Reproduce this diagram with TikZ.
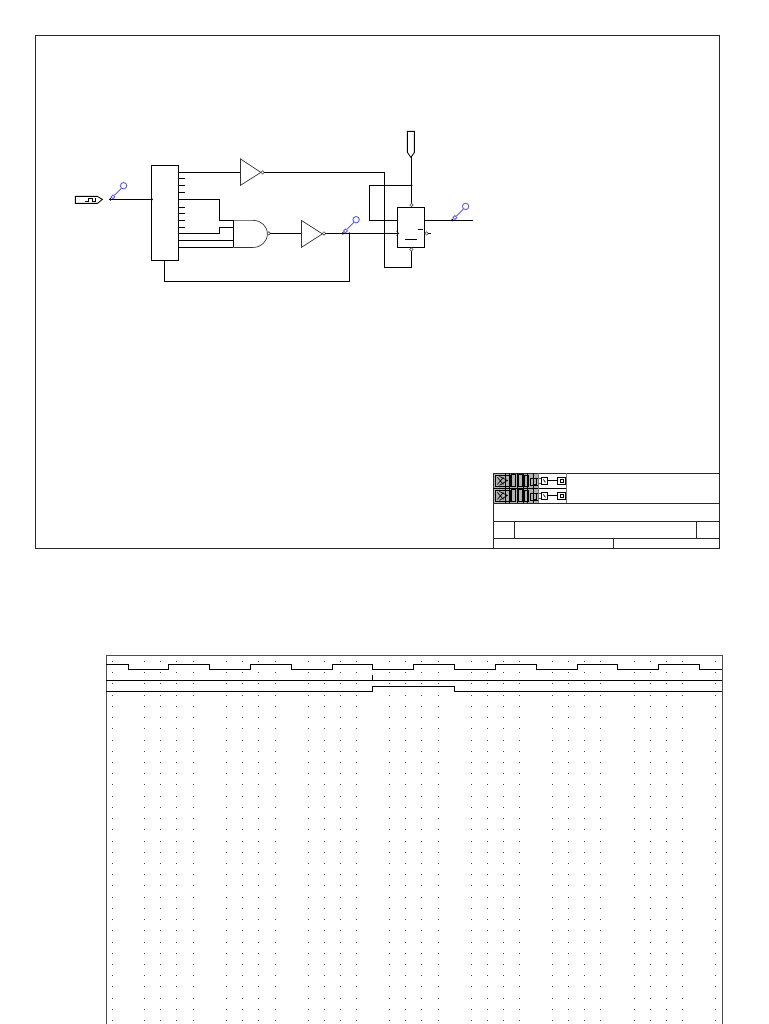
\documentclass[tikz,border=0pt]{standalone}
\definecolor{probe}{RGB}{90,90,245}
\tikzset{
 wire/.style={line width=0.85pt,black,line join=miter},
 thin gate/.style={line width=0.7pt,black!80},
 blk/.style={line width=0.85pt,black},
 bub/.style={line width=0.6pt,black!70,fill=white},
 probeline/.style={line width=0.9pt,probe},
 frame/.style={line width=0.8pt,black!85},
 lg/.style={line width=0.85pt,black}
}
\newcommand{\myprobe}[2]{%
 \draw[probeline] (#1+2.5,#2-2.5) circle (1.9);
 \draw[probeline] (#1+4,#2-4) -- (#1+11,#2-11);
 \draw[probeline] (#1+13.2,#2-13.7) circle (3.2);
 \fill (#1,#2) circle (1.4);
}
\newcommand{\mybubble}[2]{\draw[bub] (#1,#2) circle (1.7);}
\begin{document}
\begin{tikzpicture}[x=1pt,y=-1pt]
\useasboundingbox (0,0) rectangle (768,1024);
\fill[white] (0,0) rectangle (768,1024);
\begin{scope}[xshift=0.4pt,yshift=-0.4pt]
% sheet frame
\draw[frame] (35,35) rectangle (719,548);
% title block
\draw[frame] (493,548) -- (493,473) -- (719,473);
\draw[frame] (493,503) -- (719,503);
\draw[frame] (493,521) -- (719,521);
\draw[frame] (493,538) -- (719,538);
\draw[frame] (514,521) -- (514,538);
\draw[frame] (696,521) -- (696,538);
\draw[frame] (613,538) -- (613,548);
% logo
\fill[black!30] (494,474) rectangle (538,503);
\foreach \yy in {475,490}{
 \draw[lg,line width=0.8pt] (495,\yy) rectangle (510,\yy+11);
 \draw[lg,line width=0.7pt] (497,\yy+2) -- (503,\yy+9) (503,\yy+2) -- (497,\yy+9) (499,\yy+1) -- (507,\yy+5) -- (499,\yy+10);
 \draw[lg] (511,\yy-1) rectangle (515,\yy+11);
 \draw[lg] (518,\yy-1) rectangle (522,\yy+11);
 \draw[lg] (524,\yy) rectangle (528,\yy+11);
 \draw[lg] (530,\yy+3) rectangle (538,\yy+10);
 \draw[lg,line width=0.7pt] (533,\yy+3) rectangle (536,\yy+9);
 \draw[lg,line width=0.7pt,black!70] (538,\yy+3) -- (541,\yy+3) (538,\yy+8) -- (541,\yy+8);
 \draw[lg] (541,\yy+2) rectangle (547,\yy+9);
 \draw[lg,line width=0.7pt] (543,\yy+4) -- (545,\yy+7);
 \draw[lg] (547,\yy+5) -- (557,\yy+5);
 \draw[lg] (557,\yy+2) rectangle (565,\yy+9);
 \draw[lg,line width=0.7pt] (560,\yy+4) rectangle (563,\yy+7);
}
\draw[lg,line width=0.8pt] (505,473) -- (505,503) (509,473) -- (509,503) (517,473) -- (517,503) (523,473) -- (523,503) (527,473) -- (527,503) (533,473) -- (533,503);
\draw[lg,line width=0.7pt] (493,488) -- (566,488);
\draw[black!55,line width=0.7pt] (538,473) -- (538,503) (566,473) -- (566,503);
% --- schematic ---
% clock source
\draw[wire] (75,196) -- (97,196) -- (102,199) -- (97,203) -- (75,203) -- cycle;
\draw[line width=0.7pt] (85,201) -- (88,201) -- (88,198) -- (92,198) -- (92,201) -- (95,201) -- (95,198);
\coordinate (clkj) at (110,199);
\draw[wire] (clkj) -- (151,199);
\myprobe{110}{199}
% block
\draw[blk] (151,165) rectangle (178,260);
\fill (151.5,199) circle (1);
\foreach \yy in {178,185,192,207,213,220,227}{\draw[wire] (178,\yy) -- (185,\yy);}
% wires to AND
\draw[wire] (178,199) -- (219,199) -- (219,220) -- (233,220);
\draw[wire] (178,233) -- (219,233) -- (219,227) -- (233,227);
\draw[wire] (178,240) -- (233,240);
\draw[wire] (178,247) -- (233,247);
% AND gate
\draw[wire] (233,220) -- (233,247);
\draw[thin gate] (233,220) -- (253,220) arc[start angle=-90,end angle=90,x radius=14,y radius=13.5] -- (233,247);
\mybubble{268.4}{233}
\draw[wire] (270,233) -- (301,233);
% buffer 2
\draw[thin gate] (301,220) -- (301,247) -- (322,233.5) -- cycle;
\mybubble{323.6}{233}
\draw[wire] (325,233) -- (397,233);
\myprobe{342.5}{233}
\fill (349,233) circle (1.1);
\draw[wire] (349,233) -- (349,281) -- (164,281) -- (164,260);
% buffer 1
\draw[wire] (178,172) -- (240,172);
\draw[thin gate] (240,158.5) -- (240,185) -- (260.5,172) -- cycle;
\mybubble{262.2}{172}
\draw[wire] (264,172) -- (384,172) -- (384,267) -- (411,267) -- (411,250.5);
% input pin
\draw[wire] (407,131) -- (414,131) -- (414,152) -- (410.5,157) -- (407,152) -- cycle;
\draw[wire] (411,157) -- (411,202.5);
\fill (411,185) circle (1.1);
\draw[wire] (411,185) -- (369,185) -- (369,220) -- (397,220);
% flip-flop
\draw[blk] (397,207) rectangle (424,247);
\mybubble{411}{204.6}
\mybubble{411}{249}
\draw[thin gate,line width=0.6pt] (396,231) -- (398.5,233) -- (396,235);
\draw[wire] (424,220) -- (472.5,220);
\myprobe{452}{219.7}
\mybubble{426.2}{233}
\draw[wire,line width=0.7pt] (427.8,233) -- (431,233);
\draw[wire] (418,229) -- (423,229);
\draw[wire] (405,239) -- (417,239);
% --- waveform panel ---
\foreach \xx in {112,144,160,176,193,226,242,258,275,308,324,340,356,389,405,421,438,471,487,503,519,552,568,584,600,634,650,666,682,715}{
 \foreach \rr in {0,...,32}{
  \pgfmathsetmacro{\dy}{round(661+\rr*11.22)}
  \fill[black!75] (\xx,\dy) rectangle (\xx+0.2,\dy+0.2);
 }
}
\draw[frame,black!70] (106,1026) -- (106,655) -- (722,655) -- (722,1026);
\draw[wire] (106,664) -- (128,664) -- (128,669) -- (168,669) -- (168,664) -- (209,664) -- (209,669) -- (250,669) -- (250,664) -- (291,664) -- (291,669) -- (332,669) -- (332,664) -- (372,664) -- (372,669) -- (413,669) -- (413,664) -- (454,664) -- (454,669) -- (495,669) -- (495,664) -- (536,664) -- (536,669) -- (577,669) -- (577,664) -- (617,664) -- (617,669) -- (658,669) -- (658,664) -- (699,664) -- (699,669) -- (722,669);
\draw[wire] (106,680) -- (722,680);
\draw[wire] (372,675) -- (372,680);
\draw[wire] (106,691) -- (372,691) -- (372,686) -- (454,686) -- (454,691) -- (722,691);
\end{scope}
\end{tikzpicture}
\end{document}
